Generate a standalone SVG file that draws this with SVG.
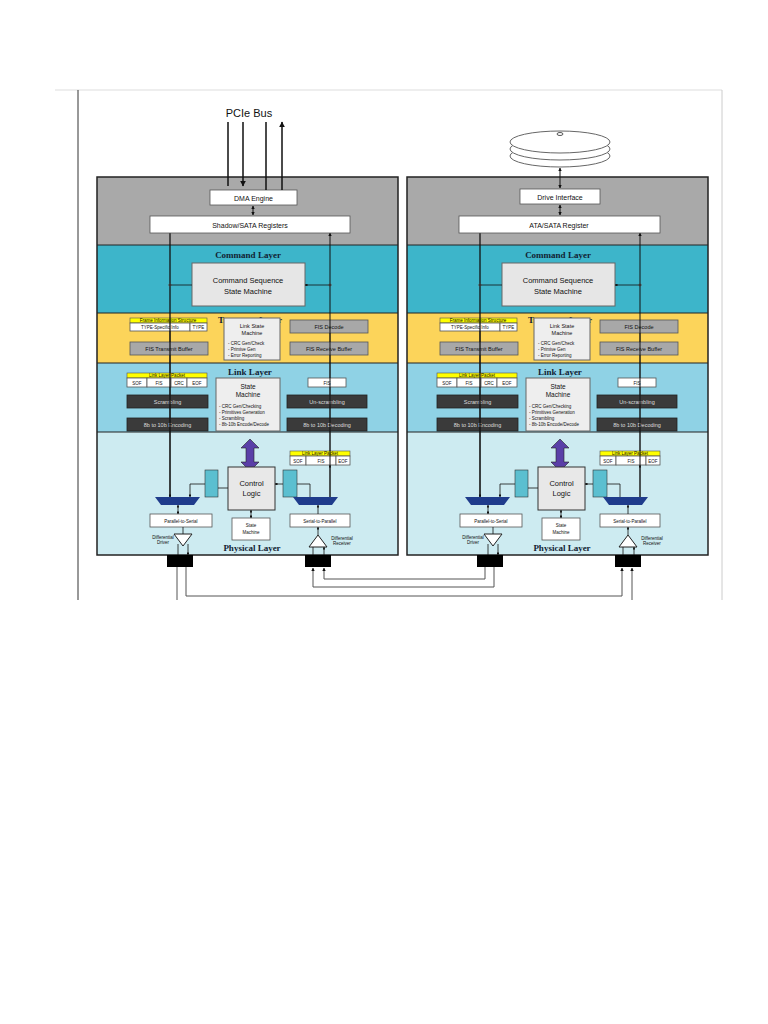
<svg xmlns="http://www.w3.org/2000/svg" width="768" height="1024" viewBox="0 0 768 1024">
<style>
text{font-family:"Liberation Sans",Arial,sans-serif;fill:#111}
.hd{font-family:"Liberation Serif","Times New Roman",serif;font-weight:bold;font-size:9px;fill:#123}
.w{fill:#fff;stroke:#555;stroke-width:0.8}
.g{fill:#a8a8a8;stroke:#555;stroke-width:0.8}
.d{fill:#3a3a3a;stroke:#222;stroke-width:0.8}
.y{fill:#ffff00;stroke:#555;stroke-width:0.6}
.sm{font-size:4.5px}
.s6{font-size:5.5px}
.wt{fill:#fff}
.ln{stroke:#111;stroke-width:1.3;fill:none}
.th{stroke:#555;stroke-width:0.8;fill:none}
</style>
<defs>
<marker id="a" viewBox="0 0 10 10" refX="9" refY="5" markerWidth="4" markerHeight="4" orient="auto-start-reverse"><path d="M0,0L10,5L0,10z" fill="#111"/></marker>
<marker id="b" viewBox="0 0 10 10" refX="9" refY="5" markerWidth="3.5" markerHeight="3.5" orient="auto-start-reverse"><path d="M0,0L10,5L0,10z" fill="#111"/></marker>
<g id="stack">
<rect x="97" y="177" width="301" height="68" fill="#a9a9a9"/>
<rect x="97" y="245" width="301" height="68" fill="#3db5ca"/>
<rect x="97" y="313" width="301" height="50" fill="#fcd45a"/>
<rect x="97" y="363" width="301" height="69" fill="#8fd2e5"/>
<rect x="97" y="432" width="301" height="123" fill="#cdebf1"/>
<rect x="97" y="177" width="301" height="378" fill="none" stroke="#222" stroke-width="1.5"/>
<line x1="97" y1="245" x2="398" y2="245" stroke="#222"/><line x1="97" y1="313" x2="398" y2="313" stroke="#222"/><line x1="97" y1="363" x2="398" y2="363" stroke="#222"/><line x1="97" y1="432" x2="398" y2="432" stroke="#222"/>
<text class="hd" x="248" y="258" text-anchor="middle">Command Layer</text>
<rect x="192" y="263" width="113" height="43" fill="#e6e6e6" stroke="#666"/>
<text x="248" y="283" font-size="7.5" text-anchor="middle">Command Sequence</text>
<text x="248" y="294" font-size="7.5" text-anchor="middle">State Machine</text>
<text class="hd" x="250" y="323" text-anchor="middle">Transport Layer</text>
<rect x="130" y="318" width="77" height="5" class="y"/><text class="sm" x="168" y="322" text-anchor="middle">Frame Information Structure</text>
<rect x="130" y="323" width="60" height="8" class="w"/><text class="sm" x="160" y="329" text-anchor="middle">TYPE-Specific Info</text>
<rect x="190" y="323" width="17" height="8" class="w"/><text class="sm" x="198.5" y="329" text-anchor="middle">TYPE</text>
<rect x="130" y="342" width="78" height="13" class="g"/><text class="s6" x="169" y="350.5" text-anchor="middle">FIS Transmit Buffer</text>
<rect x="224" y="318" width="56" height="42" fill="#eee" stroke="#666"/>
<text class="s6" x="252" y="328" text-anchor="middle">Link State</text><text class="s6" x="252" y="335" text-anchor="middle">Machine</text>
<text class="sm" x="228" y="345">- CRC Gen/Check</text><text class="sm" x="228" y="351">- Primive Gen</text><text class="sm" x="228" y="357">- Error Reporting</text>
<rect x="290" y="320" width="78" height="13" class="g"/><text class="s6" x="329" y="328.5" text-anchor="middle">FIS Decode</text>
<rect x="290" y="342" width="78" height="13" class="g"/><text class="s6" x="329" y="350.5" text-anchor="middle">FIS Receive Buffer</text>
<text class="hd" x="250" y="375" text-anchor="middle">Link Layer</text>
<rect x="127" y="373" width="80" height="5" class="y"/><text class="sm" x="167" y="377" text-anchor="middle">Link Layer Packet</text>
<rect x="127" y="378" width="20" height="9" class="w"/><text class="sm" x="137" y="384.5" text-anchor="middle">SOF</text>
<rect x="147" y="378" width="24" height="9" class="w"/><text class="sm" x="159" y="384.5" text-anchor="middle">FIS</text>
<rect x="171" y="378" width="16" height="9" class="w"/><text class="sm" x="179" y="384.5" text-anchor="middle">CRC</text>
<rect x="187" y="378" width="20" height="9" class="w"/><text class="sm" x="197" y="384.5" text-anchor="middle">EOF</text>
<rect x="127" y="395" width="81" height="13" class="d"/><text class="s6 wt" x="167.5" y="403.5" text-anchor="middle" fill="#fff" style="fill:#ddd">Scrambling</text>
<rect x="127" y="418" width="81" height="13" class="d"/><text class="s6" x="167.5" y="426.5" text-anchor="middle" style="fill:#ddd">8b to 10b Encoding</text>
<rect x="216" y="378" width="64" height="53" fill="#eee" stroke="#666"/>
<text x="248" y="389" font-size="6.5" text-anchor="middle">State</text><text x="248" y="397" font-size="6.5" text-anchor="middle">Machine</text>
<text class="sm" x="219" y="408">- CRC Gen/Checking</text><text class="sm" x="219" y="414">- Primitives Generation</text><text class="sm" x="219" y="420">- Scrambling</text><text class="sm" x="219" y="426">- 8b-10b Encode/Decode</text>
<rect x="308" y="378" width="38" height="9" class="w"/><text class="sm" x="327" y="384.5" text-anchor="middle">FIS</text>
<rect x="287" y="395" width="80" height="13" class="d"/><text class="s6" x="327" y="403.5" text-anchor="middle" style="fill:#ddd">Un-scrambling</text>
<rect x="287" y="418" width="80" height="13" class="d"/><text class="s6" x="327" y="426.5" text-anchor="middle" style="fill:#ddd">8b to 10b Decoding</text>
<!-- physical -->
<path d="M250,439 l-9,9 h5 v14 h-5 l9,9 l9,-9 h-5 v-14 h5z" fill="#5a3fa8" stroke="#222" stroke-width="0.6"/>
<rect x="228" y="467" width="47" height="43" fill="#e8e8e8" stroke="#333"/>
<text x="251.5" y="486" font-size="7.5" text-anchor="middle">Control</text><text x="251.5" y="496" font-size="7.5" text-anchor="middle">Logic</text>
<rect x="205" y="470" width="13" height="27" fill="#5bbfd0" stroke="#333" stroke-width="0.6"/>
<rect x="283" y="470" width="14" height="27" fill="#5bbfd0" stroke="#333" stroke-width="0.6"/>
<path d="M155,497 h45 l-6,8 h-33z" fill="#1f3c8c"/>
<path d="M293,497 h45 l-6,8 h-33z" fill="#1f3c8c"/>
<rect x="150" y="514" width="62" height="13" class="w"/><text class="sm" x="181" y="522.5" text-anchor="middle">Parallel-to-Serial</text>
<rect x="232" y="518" width="38" height="22" class="w"/><text class="sm" x="251" y="527" text-anchor="middle">State</text><text class="sm" x="251" y="534" text-anchor="middle">Machine</text>
<rect x="290" y="514" width="60" height="13" class="w"/><text class="sm" x="320" y="522.5" text-anchor="middle">Serial-to-Parallel</text>
<rect x="290" y="451" width="60" height="5" class="y"/><text class="sm" x="320" y="455" text-anchor="middle">Link Layer Packet</text>
<rect x="290" y="456" width="16" height="9" class="w"/><text class="sm" x="298" y="462.5" text-anchor="middle">SOF</text>
<rect x="306" y="456" width="30" height="9" class="w"/><text class="sm" x="321" y="462.5" text-anchor="middle">FIS</text>
<rect x="336" y="456" width="14" height="9" class="w"/><text class="sm" x="343" y="462.5" text-anchor="middle">EOF</text>
<path d="M174,534 h18 l-9,12z" fill="#fff" stroke="#222"/>
<path d="M309,547 h18 l-9,-12z" fill="#fff" stroke="#222"/>
<text class="sm" x="163" y="539" text-anchor="middle">Differential</text><text class="sm" x="163" y="544" text-anchor="middle">Driver</text>
<text class="sm" x="342" y="540" text-anchor="middle">Differential</text><text class="sm" x="342" y="545" text-anchor="middle">Receiver</text>
<text class="hd" x="252" y="551" text-anchor="middle">Physical Layer</text>
<!-- internal connectors -->
<g class="th" stroke="#111">
<path d="M170,233 V497" class="ln" stroke-width="1"/>
<path d="M170,285 H192" stroke="#111"/><circle cx="170" cy="285" r="1.2" fill="#111"/>
<path d="M330,233 V497" stroke="#111" stroke-width="1" marker-start="url(#b)"/>
<path d="M330,285 H305" stroke="#111" marker-end="url(#b)"/><circle cx="330" cy="285" r="1.2" fill="#111"/>
<path d="M170,331 V342 M170,355 V373 M170,387 V395 M170,408 V418 M170,431 V497" stroke="#111" marker-end="url(#b)"/>
<path d="M330,342 V333 M330,363 V355 M330,378 V363 M330,395 V387 M330,418 V408 M330,451 V431 M330,497 V465" stroke="#111" marker-end="url(#b)"/>
<path d="M190,497 V484 H205" stroke="#111" marker-start="url(#b)"/>
<path d="M218,488 H228" stroke="#111"/>
<path d="M283,484 H275" stroke="#111" marker-end="url(#b)"/>
<path d="M297,484 H310 V497" stroke="#111"/>
<path d="M251,510 V518" stroke="#111" marker-start="url(#b)" marker-end="url(#b)"/>
<path d="M178,505 V514" stroke="#111" marker-start="url(#b)" marker-end="url(#b)"/>
<path d="M318,514 V505" stroke="#111" marker-end="url(#b)"/>
<path d="M183,527 V534" stroke="#111"/>
<path d="M318,535 V527" stroke="#111" marker-end="url(#b)"/>
<path d="M178,544 V555 M188,544 V555" stroke="#111" marker-end="url(#b)"/>
<path d="M313,555 V547 M324,555 V547" stroke="#111" marker-end="url(#b)"/>
</g>
<rect x="167" y="555" width="26" height="12" fill="#000"/>
<rect x="305" y="555" width="26" height="12" fill="#000"/>
</g>
</defs>
<rect width="768" height="1024" fill="#fff"/>
<line x1="55" y1="90" x2="722" y2="90" stroke="#ddd"/>
<line x1="78" y1="90" x2="78" y2="600" stroke="#333"/>
<line x1="722" y1="90" x2="722" y2="600" stroke="#ccc"/>
<g id="left-stack"><use href="#stack"/></g>
<g id="right-stack"><use href="#stack" transform="translate(310,0)"/></g>
<g id="pcie">
<text x="249" y="117" font-size="11" text-anchor="middle">PCIe Bus</text>
</g>
<g id="dma"><rect x="210" y="190" width="87" height="15" class="w"/><text x="253.5" y="200.5" font-size="7" text-anchor="middle">DMA Engine</text></g>
<g id="shadow"><rect x="150" y="216" width="200" height="17" class="w"/><text x="250" y="227.5" font-size="7" text-anchor="middle">Shadow/SATA Registers</text></g>
<g id="disk">
<ellipse cx="560" cy="156" rx="50" ry="11" fill="#fff" stroke="#666"/>
<ellipse cx="560" cy="149" rx="50" ry="11" fill="#fff" stroke="#666"/>
<ellipse cx="560" cy="142" rx="50" ry="11" fill="#fff" stroke="#666"/>
<ellipse cx="560" cy="134" rx="3" ry="1.5" fill="none" stroke="#555"/>
</g>
<g id="drive"><rect x="520" y="189" width="80" height="15" class="w"/><text x="560" y="199.5" font-size="7" text-anchor="middle">Drive Interface</text></g>
<g id="ata"><rect x="459" y="216" width="201" height="17" class="w"/><text x="559" y="227.5" font-size="7" text-anchor="middle">ATA/SATA Register</text></g>
<g id="connectors" fill="none" stroke="#111">
<path d="M228,122 V186 M243,122 V186" stroke-width="1.5" marker-end="url(#a)"/>
<path d="M266,190 V122 M282,190 V122" stroke-width="1.5" marker-end="url(#a)"/>
<path d="M253,206 V215" marker-start="url(#b)" marker-end="url(#b)"/>
<path d="M560,168 V188" marker-start="url(#b)" marker-end="url(#b)"/>
<path d="M560,205 V215" marker-start="url(#b)" marker-end="url(#b)"/>
<g stroke="#555">
<path d="M177,567 V600"/>
<path d="M186,567 V596 H622 V568" marker-end="url(#b)"/>
<path d="M485,567 V579 H324 V568" marker-end="url(#b)"/>
<path d="M494,567 V587 H313 V568" marker-end="url(#b)"/>
<path d="M632,600 V568" marker-end="url(#b)"/>
</g>
</g>
</svg>
